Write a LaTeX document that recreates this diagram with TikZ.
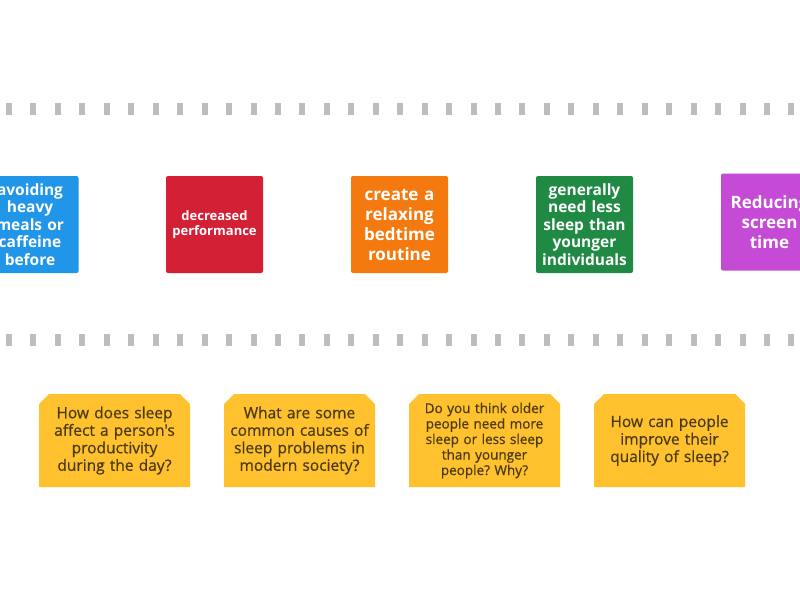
\documentclass[tikz,border=0pt]{standalone}
\usetikzlibrary{shapes.misc}
\usepackage{fontspec}
\setmainfont{Open Sans}
\newfontfamily\semib{Open Sans}[FakeBold=0.7]
\frenchspacing
\definecolor{cblue}{HTML}{2196E8}
\definecolor{cred}{HTML}{D42035}
\definecolor{corange}{HTML}{F47A10}
\definecolor{cgreen}{HTML}{208A44}
\definecolor{cpurple}{HTML}{C54AD6}
\definecolor{cyel}{HTML}{FFC12E}
\definecolor{cyeltxt}{HTML}{4A3A12}
\definecolor{cdash}{HTML}{BDBDBD}
\begin{document}
\begin{tikzpicture}[x=1pt,y=-1pt,
  tile/.style={minimum width=97pt,minimum height=97pt,text width=90pt,align=center,text=white,font=\bfseries\fontsize{15.5}{17.5}\selectfont,inner sep=0pt,rounded corners=2pt},
  card/.style={minimum width=151pt,minimum height=93pt,text width=140pt,align=center,text=cyeltxt,font=\semib\fontsize{15.5}{17.5}\selectfont,inner sep=0pt,fill=cyel,
   chamfered rectangle, chamfered rectangle corners={north west,north east},chamfered rectangle xsep=5pt,chamfered rectangle ysep=5pt}]
\path[use as bounding box] (0,0) rectangle (800,600);
\clip (0,0) rectangle (800,600);
\fill[white] (0,0) rectangle (800,600);
\foreach \k in {0,...,32}{
  \fill[cdash] ({6+24.45*\k},103) rectangle ++(6,12);
  \fill[cdash] ({6+24.45*\k},334) rectangle ++(6,12);
}
\node[tile,fill=cblue] (t1) at (30,224.5) {avoiding heavy meals or caffeine before};
\node[tile,fill=cred,font=\bfseries\fontsize{13}{15.5}\selectfont] (t2) at (214.5,224.5) {decreased performance};
\node[tile,fill=corange,font=\bfseries\fontsize{17}{20}\selectfont] (t3) at (399.5,224.5) {create a relaxing bedtime routine};
\node[tile,fill=cgreen] (t4) at (584.5,224.5) {generally need less sleep than younger individuals};
\node[tile,fill=cpurple,font=\bfseries\fontsize{17}{20}\selectfont] (t5) at (769.5,222) {Reducing screen time};
\node[card] (q1) at (114.5,440.5) {How does sleep affect a person\symbol{39}s productivity during the day?};
\node[card] (q2) at (299.5,440.5) {What are some common causes of sleep problems in modern society?};
\node[card,font=\semib\fontsize{13.5}{15.5}\selectfont] (q3) at (484.5,440.5) {Do you think older people need more sleep or less sleep than younger people? Why?};
\node[card] (q4) at (669.5,440.5) {How can people improve their quality of sleep?};
\end{tikzpicture}
\end{document}
